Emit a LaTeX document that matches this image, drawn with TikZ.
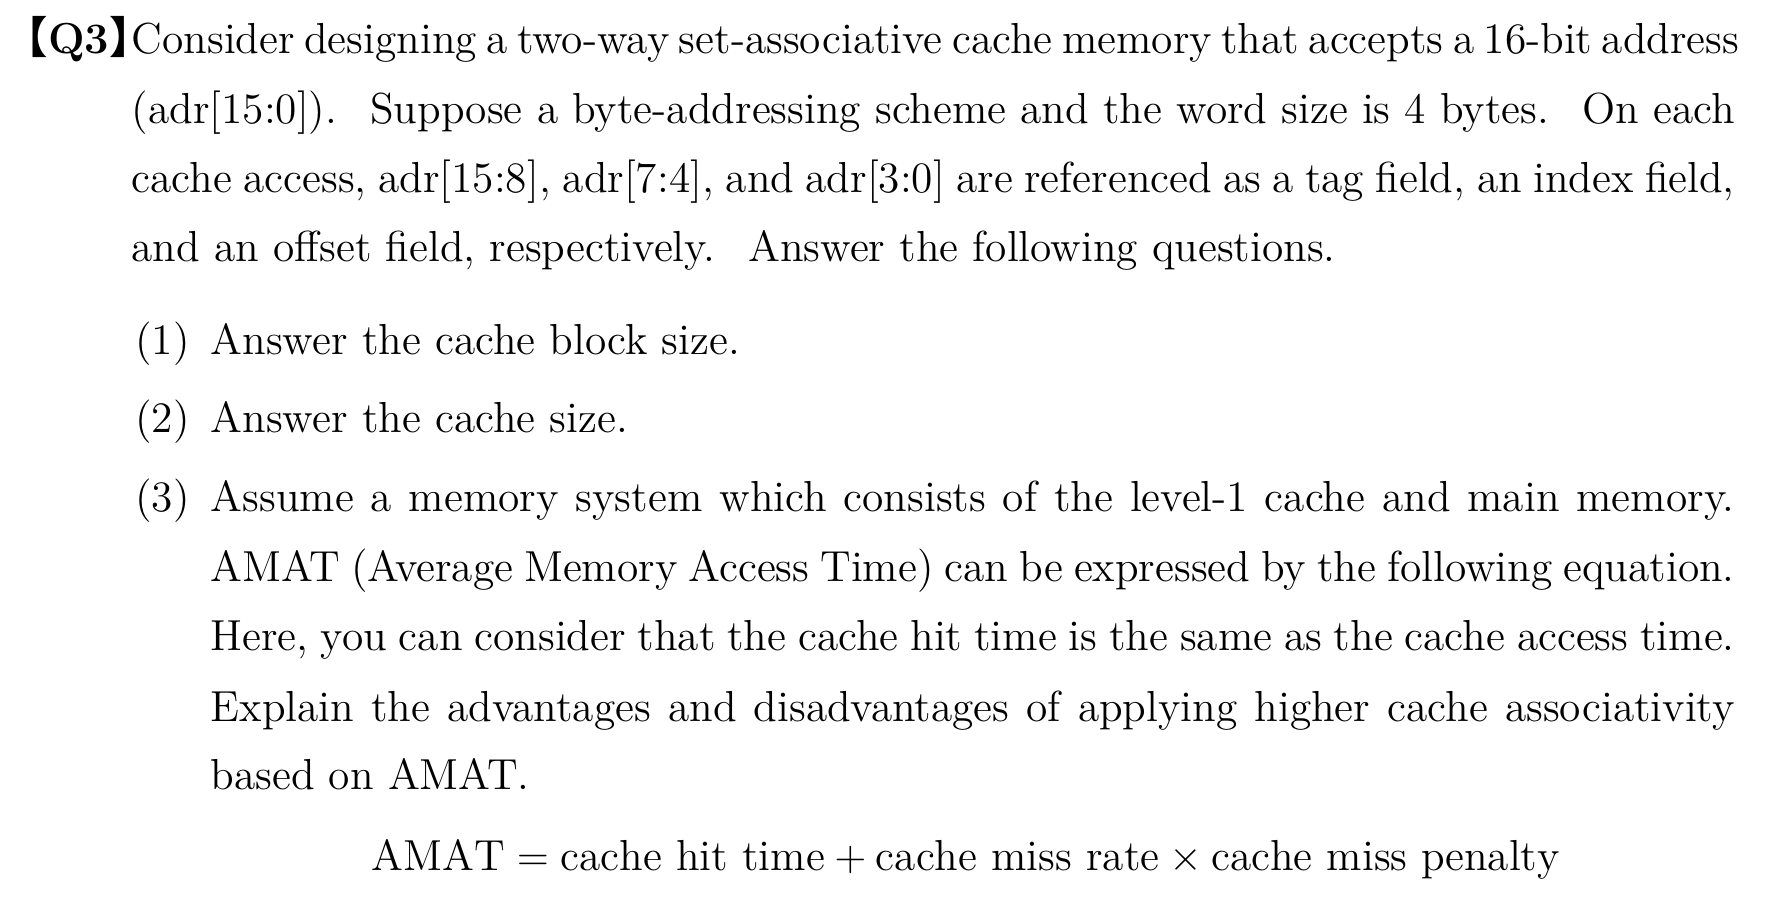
\documentclass[tikz,border=0pt]{standalone}
\usepackage{fontspec}
\newfontfamily\cjk{Noto Sans CJK SC}
\begin{document}
\begin{tikzpicture}[every node/.style={inner sep=0pt,anchor=base west,font=\fontsize{12.35}{15}\selectfont}]
\useasboundingbox (0,0) rectangle (17.68,-9.06);
\def\J#1#2#3#4#5{\node (#1) at (#2,-#3) {\makebox[#4cm][s]{#5}};}
\node (q) at (0.04,-0.536) {{\cjk\bfseries 【}\textbf{Q3}{\cjk\bfseries 】}};
\J{l1}{1.31}{0.536}{16.03}{Consider designing a two-way set-associative cache memory that accepts a 16-bit address}
\J{l2}{1.31}{1.23}{16.03}{(adr[15:0]). \ Suppose a byte-addressing scheme and the word size is 4 bytes. \ On each}
\J{l3}{1.31}{1.92}{16.03}{cache access, adr[15:8], adr[7:4], and adr[3:0] are referenced as a tag field, an index field,}
\node (l4) at (1.31,-2.61) {and an offset field, respectively. \ Answer the following questions.};
\node (i1) at (1.346,-3.54) {(1)};
\node (t1) at (2.10,-3.54) {Answer the cache block size.};
\node (i2) at (1.346,-4.32) {(2)};
\node (t2) at (2.10,-4.32) {Answer the cache size.};
\node (i3) at (1.346,-5.11) {(3)};
\J{t3}{2.10}{5.11}{15.24}{Assume a memory system which consists of the level-1 cache and main memory.}
\J{t4}{2.10}{5.81}{15.24}{AMAT (Average Memory Access Time) can be expressed by the following equation.}
\J{t5}{2.10}{6.50}{15.24}{Here, you can consider that the cache hit time is the same as the cache access time.}
\J{t6}{2.10}{7.21}{15.24}{Explain the advantages and disadvantages of applying higher cache associativity}
\node (t7) at (2.10,-7.89) {based on AMAT.};
\node (eq) at (3.71,-8.70) {$\mathrm{AMAT}=\mathrm{cache\ hit\ time}+\mathrm{cache\ miss\ rate}\times\mathrm{cache\ miss\ penalty}$};
\end{tikzpicture}
\end{document}
